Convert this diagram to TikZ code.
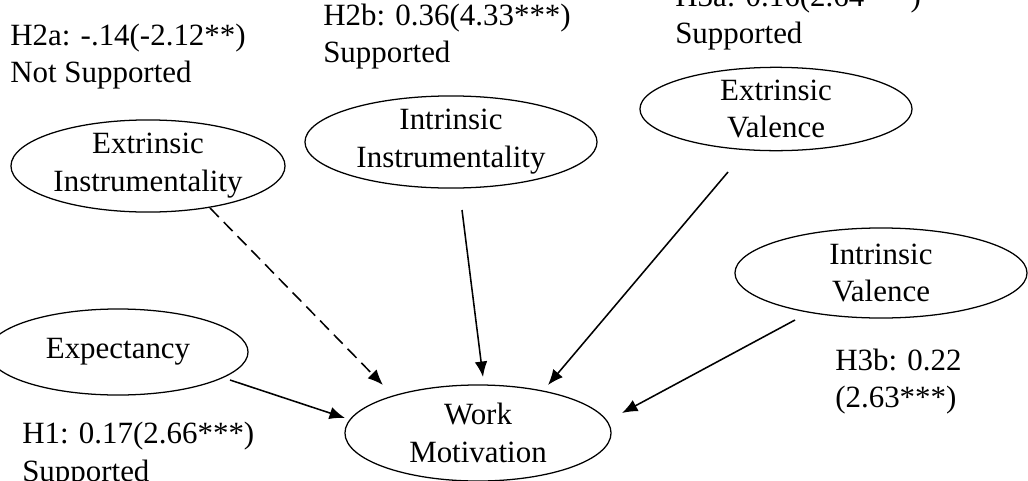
\documentclass[tikz,border=0pt]{standalone}
\usepackage{fontspec}
\setmainfont{Liberation Serif}
\usetikzlibrary{shapes.geometric,arrows.meta}
\begin{document}
\begin{tikzpicture}[x=0.025cm,y=-0.025cm,
  every node/.style={font=\fontsize{22}{27}\selectfont},
  ell/.style={draw,ellipse,line width=0.9pt,inner sep=0pt,align=center},
  lab/.style={anchor=base west,inner sep=0pt},
  arr/.style={line width=1.1pt,-{Latex[length=11pt,width=9pt]}}]
\useasboundingbox (0,0) rectangle (1028,481);
\node[ell,minimum width=6.85cm,minimum height=2.2cm] (ei) at (148,166) {Extrinsic\\Instrumentality};
\node[ell,minimum width=7.3cm,minimum height=2.2cm] (ii) at (451,142) {Intrinsic\\Instrumentality};
\node[ell,minimum width=6.8cm,minimum height=2.05cm] (ev) at (776,109) {Extrinsic\\Valence};
\node[ell,minimum width=7.3cm,minimum height=2.25cm] (iv) at (881,273) {Intrinsic\\Valence};
\node[ell,minimum width=6.5cm,minimum height=2.15cm] (ex) at (118,352) {Expectancy};
\node[ell,minimum width=6.65cm,minimum height=2.4cm] (wm) at (478,433) {Work\\Motivation};
\coordinate (a1) at (210,208); \coordinate (b1) at (383,385);
\coordinate (a2) at (462,210); \coordinate (b2) at (483,377);
\coordinate (a3) at (728,172); \coordinate (b3) at (548,385);
\coordinate (a4) at (795,320); \coordinate (b4) at (622,413);
\coordinate (a5) at (230,380); \coordinate (b5) at (345,418);
\draw[arr,dashed,dash pattern=on 9pt off 5pt] (a1) -- (b1);
\draw[arr] (a2) -- (b2);
\draw[arr] (a3) -- (b3);
\draw[arr] (a4) -- (b4);
\draw[arr] (a5) -- (b5);
\node[lab] (t1) at (10,45) {H2a: -.14(-2.12**)};
\node[lab] (t2) at (10,82) {Not Supported};
\node[lab] (t3) at (323,25) {H2b: 0.36(4.33***)};
\node[lab] (t4) at (323,62) {Supported};
\node[lab] (t5) at (675,6) {H3a: 0.16(2.64***)};
\node[lab] (t6) at (675,43) {Supported};
\node[lab] (t7) at (835,370) {H3b: 0.22};
\node[lab] (t8) at (835,407) {(2.63***)};
\node[lab] (t9) at (22,443) {H1: 0.17(2.66***)};
\node[lab] (t10) at (22,481) {Supported};
\end{tikzpicture}
\end{document}
